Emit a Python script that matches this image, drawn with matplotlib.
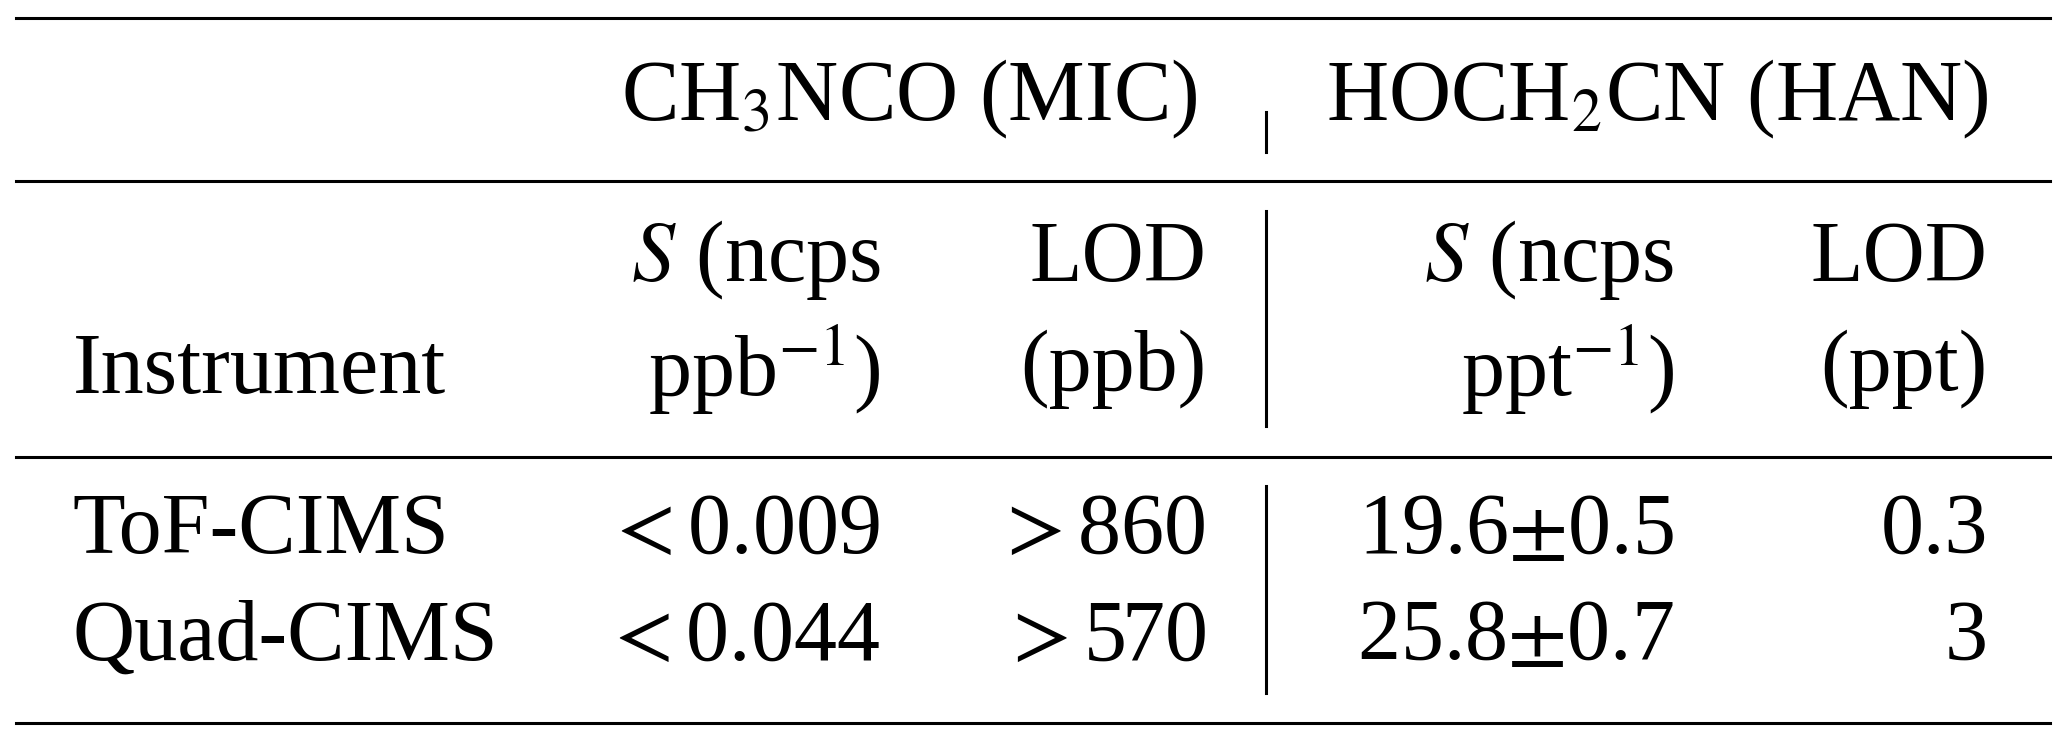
import matplotlib
matplotlib.use("Agg")
import matplotlib.pyplot as plt

plt.rcParams['font.family'] = ['Liberation Serif', 'DejaVu Serif']
plt.rcParams['mathtext.fontset'] = 'stix'

groups = [r"CH$_3$NCO (MIC)", r"HOCH$_2$CN (HAN)"]
head1 = [r"$S$ (ncps", "LOD", r"$S$ (ncps", "LOD"]
head2 = [r"ppb$^{-1}$)", "(ppb)", r"ppt$^{-1}$)", "(ppt)"]
instruments = ["ToF-CIMS", "Quad-CIMS"]
mic_s = [r"$<$0.009", r"$<$0.044"]
mic_lod = [r"$>$860", r"$>$570"]
han_s = [r"19.6$\pm$0.5", r"25.8$\pm$0.7"]
han_lod = ["0.3", "3"]

fig = plt.figure(figsize=(20.67, 7.43), dpi=100)
ax = fig.add_axes([0, 0, 1, 1])
ax.set_xlim(0, 1568); ax.set_ylim(563, 0); ax.axis('off')
fs = 62
lw = 2.2
for y in [14, 137, 346, 548]:
    ax.plot([12, 1555], [y, y], color='black', lw=lw)
for y0, y1 in [(85, 115), (160, 323), (368, 525)]:
    ax.plot([960, 960], [y0, y1], color='black', lw=lw)

ax.text(690, 75, groups[0], ha='center', va='center', fontsize=fs)
ax.text(1257, 75, groups[1], ha='center', va='center', fontsize=fs)
cols = [668, 915, 1270, 1508]
for x, a, b in zip(cols, head1, head2):
    ax.text(x, 197, a, ha='right', va='center', fontsize=fs)
    ax.text(x, 280, b, ha='right', va='center', fontsize=fs)
ax.text(55, 282, "Instrument", ha='left', va='center', fontsize=fs)
for i, y in enumerate([403, 484]):
    ax.text(55, y, instruments[i], ha='left', va='center', fontsize=fs)
    for x, v in zip(cols, [mic_s[i], mic_lod[i], han_s[i], han_lod[i]]):
        ax.text(x, y, v, ha='right', va='center', fontsize=fs)
fig.savefig("out.png", dpi=100)
